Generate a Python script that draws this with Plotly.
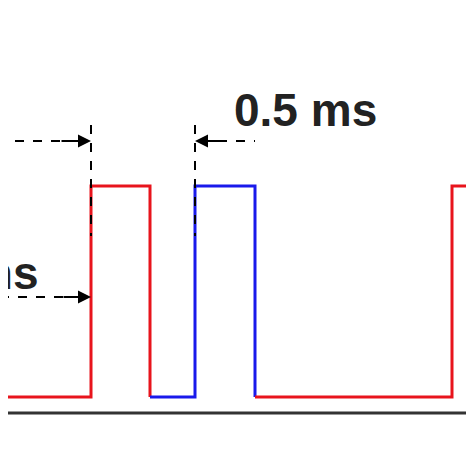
import plotly.graph_objects as go

red1_x = [0, 91, 91, 150, 150]
red1_y = [397, 397, 186, 186, 397]
blue_x = [150, 195, 195, 255, 255]
blue_y = [397, 397, 186, 186, 397]
red2_x = [255, 452, 452, 490]
red2_y = [397, 397, 186, 186]

fig = go.Figure()
fig.add_trace(go.Scatter(x=red1_x, y=red1_y, mode="lines", line=dict(color="#e8141c", width=3)))
fig.add_trace(go.Scatter(x=blue_x, y=blue_y, mode="lines", line=dict(color="#1a1aeb", width=3)))
fig.add_trace(go.Scatter(x=red2_x, y=red2_y, mode="lines", line=dict(color="#e8141c", width=3)))
fig.add_shape(type="line", x0=0, x1=490, y0=413, y1=413, line=dict(color="#333", width=3))
for xv in [91, 195]:
    fig.add_shape(type="line", x0=xv, x1=xv, y0=125, y1=236, line=dict(color="black", width=2, dash="dash"))
fig.add_shape(type="line", x0=15, x1=68, y0=141, y1=141, line=dict(color="black", width=2, dash="dash"))
fig.add_shape(type="line", x0=218, x1=255, y0=141, y1=141, line=dict(color="black", width=2, dash="dash"))
fig.add_shape(type="line", x0=0, x1=70, y0=297, y1=297, line=dict(color="black", width=2, dash="dash"))
for (xs, xe, y) in [(60, 91, 141), (225, 195, 141), (62, 91, 297)]:
    fig.add_annotation(x=xe, y=y, ax=xs, ay=y, xref="x", yref="y", axref="x", ayref="y",
                       showarrow=True, arrowhead=2, arrowsize=1.3, arrowwidth=2, arrowcolor="black", text="")
fig.add_annotation(x=305, y=110, text="<b>0.5 ms</b>", showarrow=False,
                   font=dict(size=46, color="#222", family="Liberation Sans"))
fig.add_annotation(x=40, y=273, text="<b>ms</b>", showarrow=False, xanchor="right",
                   font=dict(size=46, color="#222", family="Liberation Sans"))
fig.update_layout(width=474, height=474, margin=dict(l=0, r=0, t=0, b=0),
                  paper_bgcolor="white", plot_bgcolor="white", showlegend=False,
                  xaxis=dict(range=[8, 482], visible=False),
                  yaxis=dict(range=[482, 8], visible=False))
fig.write_html("out.html")
